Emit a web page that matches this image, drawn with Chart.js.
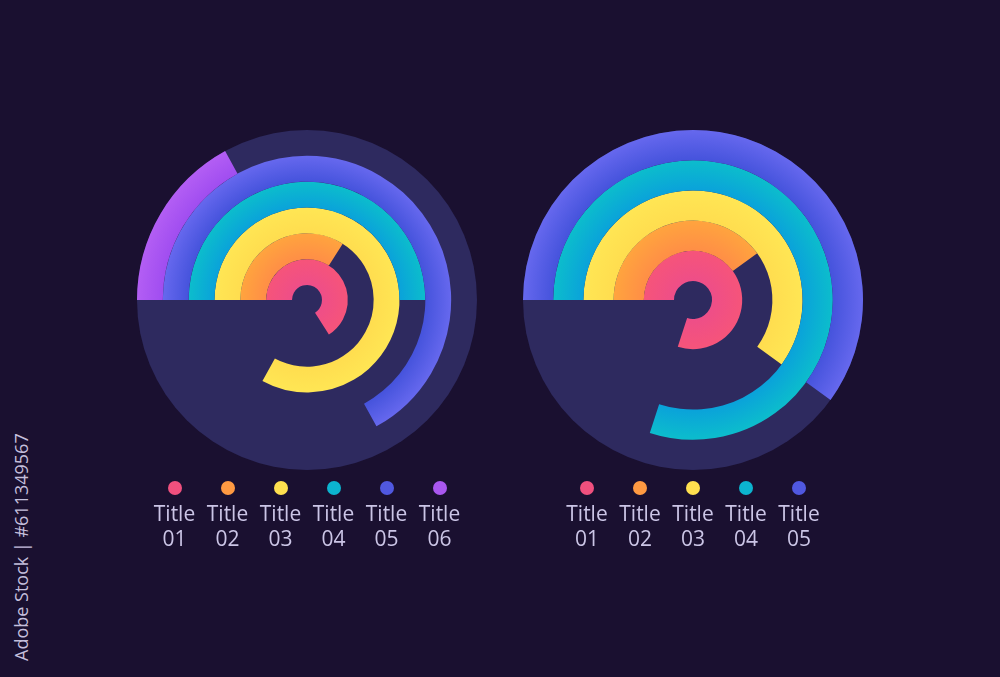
<!DOCTYPE html>
<html>
<head>
<meta charset="utf-8">
<script src="https://cdn.jsdelivr.net/npm/chart.js@4.4.1/dist/chart.umd.min.js"></script>
<style>
  html, body { margin: 0; padding: 0; }
  body {
    width: 1000px; height: 677px; overflow: hidden; position: relative;
    background: #1a1030;
    font-family: "Open Sans", "Noto Sans", sans-serif;
  }
  .chart { position: absolute; top: 120px; width: 360px; height: 360px; }
  .legend {
    position: absolute; top: 479px; width: 360px;
    display: flex; justify-content: center;
  }
  .legend .item { width: 53px; text-align: center; color: #cbc5e6; font-size: 21px; line-height: 25px; }
  .legend .dot { width: 14px; height: 14px; border-radius: 50%; margin: 2px auto 6px; }
  .stamp {
    position: absolute; left: 10px; top: 661px;
    transform: rotate(-90deg); transform-origin: 0 0;
    white-space: nowrap; color: #c4bfdc; font-size: 18px; line-height: 22px;
  }
</style>
</head>
<body>
<div class="chart" style="left:127px"><canvas id="chart1"></canvas></div>
<div class="chart" style="left:513px"><canvas id="chart2"></canvas></div>
<div class="legend" id="legend1" style="left:127px"></div>
<div class="legend" id="legend2" style="left:513px"></div>
<div class="stamp">Adobe Stock | #611349567</div>

<script>
// --- data (percent of a full turn, starting at 9 o'clock, clockwise) ---
const titles1 = ["Title 01", "Title 02", "Title 03", "Title 04", "Title 05", "Title 06"];
const values1 = [66, 34, 83, 50, 67, 17];

const titles2 = ["Title 01", "Title 02", "Title 03", "Title 04", "Title 05"];
const values2 = [80, 40, 60, 80, 60];

const fullTurn = 100;

// colours per title: [inner edge, outer edge]
const ringColors = [
  ["#ee4e88", "#f6547a"],
  ["#ff8e46", "#ffa43e"],
  ["#ffdd4f", "#ffe654"],
  ["#0aa2da", "#0cbdcc"],
  ["#4553dc", "#6668ee"],
  ["#a04df0", "#b35ef4"]
];
const dotColors = ["#f0507e", "#ff9a42", "#ffe04f", "#0cb4cf", "#5058e0", "#a957ef"];

const ringBg = "#2e2a5f";

// fill the whole disc behind the rings
const discPlugin = {
  id: "disc",
  beforeDatasetsDraw(chart) {
    const arc = chart.getDatasetMeta(0).data[0];
    if (!arc) return;
    const c = chart.ctx;
    c.save();
    c.beginPath();
    c.arc(arc.x, arc.y, arc.outerRadius, 0, Math.PI * 2);
    c.fillStyle = ringBg;
    c.fill();
    c.restore();
  }
};

function radialFill(chart, ring, count, cutout, colors) {
  const a = chart.chartArea;
  if (!a) return colors[1];
  const cx = (a.left + a.right) / 2, cy = (a.top + a.bottom) / 2;
  const R = Math.min(a.right - a.left, a.bottom - a.top) / 2;
  const band = (R - cutout) / count;
  const outer = R - ring * band;
  const inner = outer - band;
  const g = chart.ctx.createRadialGradient(cx, cy, inner, cx, cy, outer);
  g.addColorStop(0, colors[0]);
  g.addColorStop(1, colors[1]);
  return g;
}

function buildConfig(titles, values, cutout) {
  const n = values.length;
  // Chart.js puts the first dataset outside, so reverse: last title is outermost
  const datasets = [];
  for (let k = n - 1; k >= 0; k--) {
    const ring = n - 1 - k;
    datasets.push({
      label: titles[k],
      data: [values[k], fullTurn - values[k]],
      backgroundColor: ctx => ctx.dataIndex === 0
        ? radialFill(ctx.chart, ring, n, cutout, ringColors[k])
        : "rgba(0,0,0,0)",
      borderWidth: 0,
      hoverOffset: 0,
      offset: 0
    });
  }
  return {
    type: "doughnut",
    data: { labels: ["value", "rest"], datasets },
    options: {
      responsive: true,
      maintainAspectRatio: false,
      animation: false,
      events: [],
      rotation: -90,
      circumference: 360,
      cutout: cutout,
      layout: { padding: 10 },
      plugins: { legend: { display: false }, tooltip: { enabled: false } }
    },
    plugins: [discPlugin]
  };
}

function buildLegend(el, titles) {
  titles.forEach((t, i) => {
    const parts = t.split(" ");
    const item = document.createElement("div");
    item.className = "item";
    item.innerHTML = `<div class="dot" style="background:${dotColors[i]}"></div>${parts[0]}<br>${parts[1]}`;
    el.appendChild(item);
  });
}

new Chart(document.getElementById("chart1"), buildConfig(titles1, values1, 15));
new Chart(document.getElementById("chart2"), buildConfig(titles2, values2, 19));
buildLegend(document.getElementById("legend1"), titles1);
buildLegend(document.getElementById("legend2"), titles2);
</script>
</body>
</html>
